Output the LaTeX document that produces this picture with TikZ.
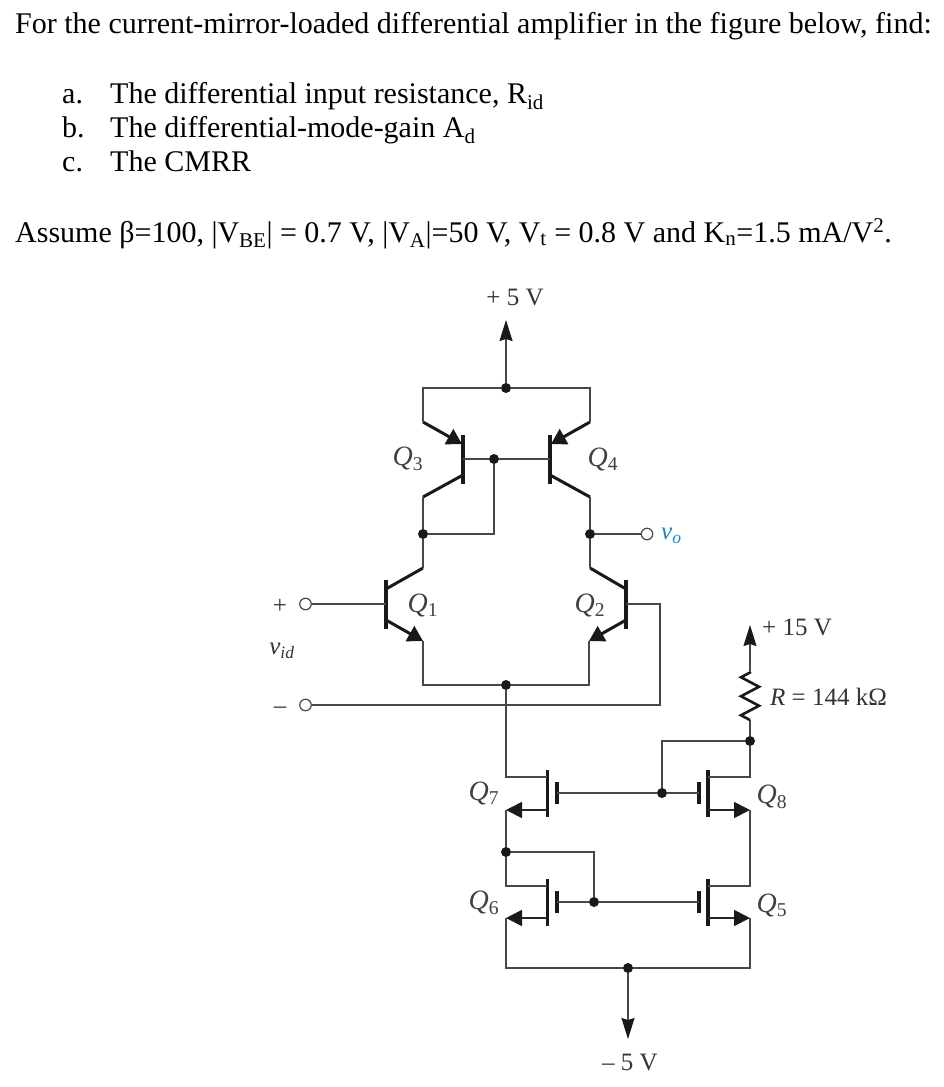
\documentclass[tikz,border=0pt]{standalone}
\usepackage{fontspec}
\setmainfont{Liberation Serif}
\usetikzlibrary{arrows.meta, positioning, decorations.pathmorphing}
\tikzset{
  wire/.style={line width=1.3pt, color=black!72},
  thickwire/.style={line width=3pt, color=black!90},
  barline/.style={line width=3.2pt, color=black!90},
  tipped/.style={wire, -{Stealth[length=21pt, width=13pt, inset=2pt, color=black!90]}},
  emitter/.style={thickwire, -{Triangle[length=15pt, width=17pt]}},
  source/.style={wire, line width=1.7pt, color=black!85, -{Triangle[length=16pt, width=16pt, color=black!90]}},
  dot/.style={circle, fill=black!90, inner sep=0pt, minimum size=10pt},
  port/.style={circle, draw=black!72, fill=white, line width=1.2pt, inner sep=0pt, minimum size=11.5pt},
  para/.style={anchor=base west, inner sep=0pt, font=\fontsize{30}{34}\selectfont},
  lbl/.style={inner sep=0pt, color=black!80, font=\fontsize{25}{28}\selectfont},
  qlbl/.style={inner sep=0pt, color=black!75, font=\fontsize{28}{30}\selectfont}
}
\newcommand{\qname}[1]{\textit{Q}\textsubscript{#1}}
\begin{document}
\begin{tikzpicture}[x=1pt, y=-1pt]
\useasboundingbox (0,0) rectangle (943,1087);
% question text
\node[para] (intro) at (15,33) {For the current-mirror-loaded differential amplifier in the figure below, find:};
\node[para] (itema) at (62,103) {a.};
\node[para] (texta) at (110,103) {The differential input resistance, R\textsubscript{id}};
\node[para] (itemb) at (62,137) {b.};
\node[para] (textb) at (110,137) {The differential-mode-gain A\textsubscript{d}};
\node[para] (itemc) at (62,171) {c.};
\node[para] (textc) at (110,171) {The CMRR};
\node[para] (assume) at (15,242) {Assume β=100, |V\textsubscript{BE}| = 0.7 V, |V\textsubscript{A}|=50 V, V\textsubscript{t} = 0.8 V and K\textsubscript{n}=1.5 mA/V\textsuperscript{2}.};
% supply labels
\node[lbl] (vp) at (515,298) {+ 5 V};
\node[lbl] (vm) at (630,1062) {– 5 V};
\node[lbl, anchor=west] (vh) at (762,627) {+ 15 V};
\node[lbl, anchor=west] (rlab) at (770,697) {\textit{R} = 144 kΩ};
% junctions
\node[dot] (top) at (506,388) {};
\node[dot] (mirror) at (494,459) {};
\node[dot] (c3) at (423,534) {};
\node[dot] (c4) at (590,534) {};
\node[port] (vout) at (647,534) {};
\node[lbl, color=cyan!70!blue, anchor=west] (vo) at (661,536) {\textit{v\textsubscript{o}}};
\node[port] (inp) at (305.5,604) {};
\node[port] (inm) at (305.5,705) {};
\node[lbl] (plus) at (280,606) {+};
\node[lbl] (minus) at (280,710) {–};
\node[lbl] (vid) at (282,651) {\textit{v\textsubscript{id}}};
\node[dot] (tail) at (506,685) {};
\node[dot] (rbot) at (750,741) {};
\node[dot] (g8) at (662,793) {};
\node[dot] (s7) at (506,852) {};
\node[dot] (g6) at (594,902) {};
\node[dot] (gnd) at (628,968) {};
% transistor names
\node[qlbl] (nq3) at (408,459) {\qname{3}};
\node[qlbl] (nq4) at (603,459) {\qname{4}};
\node[qlbl] (nq1) at (423,605) {\qname{1}};
\node[qlbl] (nq2) at (590,605) {\qname{2}};
\node[qlbl] (nq7) at (484,793) {\qname{7}};
\node[qlbl] (nq8) at (772,797) {\qname{8}};
\node[qlbl] (nq6) at (484,903) {\qname{6}};
\node[qlbl] (nq5) at (772,905) {\qname{5}};
% points on the devices
\coordinate (tl) at (423,388);
\coordinate (tr) at (590,388);
\coordinate (e3) at (423,422);
\coordinate (e4) at (590,422);
\coordinate (b3) at (463,459);
\coordinate (b4) at (550,459);
\coordinate (k3) at (423,497);
\coordinate (k4) at (590,497);
\coordinate (b1) at (386,604);
\coordinate (b2) at (626,604);
\coordinate (k1) at (423,568);
\coordinate (k2) at (590,568);
\coordinate (e1) at (423,641);
\coordinate (e2) at (589,641);
\coordinate (r15) at (750,672);
\coordinate (r0) at (750,720);
% bjt bars and thick legs
\draw[barline] (463,435) -- (463,484);
\draw[barline] (550,435) -- (550,484);
\draw[barline] (386,580) -- (386,629);
\draw[barline] (626,580) -- (626,629);
\draw[emitter] (e3) -- (462,444);
\draw[emitter] (e4) -- (551,444);
\draw[thickwire] (463,475) -- (k3);
\draw[thickwire] (550,475) -- (k4);
\draw[thickwire] (386,589) -- (k1);
\draw[thickwire] (626,589) -- (k2);
\draw[emitter] (386,620) -- (e1);
\draw[emitter] (626,620) -- (e2);
% wires of the upper half
\draw[tipped] (top) -- (506,320);
\draw[wire] (e3) -- (tl) -- (top) -- (tr) -- (e4);
\draw[wire] (b3) -- (mirror) -- (b4);
\draw[wire] (mirror) |- (c3);
\draw[wire] (k3) -- (c3) -- (k1);
\draw[wire] (k4) -- (c4) -- (k2);
\draw[wire] (c4) -- (vout);
\draw[wire] (inp) -- (b1);
\draw[wire] (e1) |- (tail) -| (e2);
\draw[wire] (b2) -- (660,604) |- (inm);
% mosfet bars
\foreach \x/\y in {547.5/793, 708/793, 547.5/902, 708/902} {
  \draw[barline] (\x,\y-23) -- (\x,\y+24);
}
\draw[barline] (557,782) -- (557,804);
\draw[barline] (699,782) -- (699,804);
\draw[barline] (557,891) -- (557,913);
\draw[barline] (699,891) -- (699,913);
% wires of the lower half
\draw[wire] (tail) -- (506,777) -- (547,777);
\draw[wire] (557,793) -- (g8) -- (699,793);
\draw[wire] (g8) |- (rbot);
\draw[wire] (708,777) -- (750,777) -- (rbot);
\draw[wire] (rbot) -- (r0);
\draw[thickwire, line width=2.6pt, decorate, decoration={zigzag, segment length=19pt, amplitude=9pt}] (r0) -- (r15);
\draw[tipped] (r15) -- (750,625);
\draw[source] (547,810) -- (506,810);
\draw[source] (708,810) -- (750,810);
\draw[wire] (506,810) -- (s7);
\draw[wire] (s7) -- (506,886) -- (547,886);
\draw[wire] (s7) -| (g6);
\draw[wire] (557,902) -- (g6) -- (699,902);
\draw[wire] (708,886) -- (750,886) -- (750,810);
\draw[source] (547,918) -- (506,918);
\draw[source] (708,918) -- (750,918);
\draw[wire] (506,918) |- (gnd) -| (750,918);
\draw[tipped] (gnd) -- (628,1039);
\end{tikzpicture}
\end{document}
